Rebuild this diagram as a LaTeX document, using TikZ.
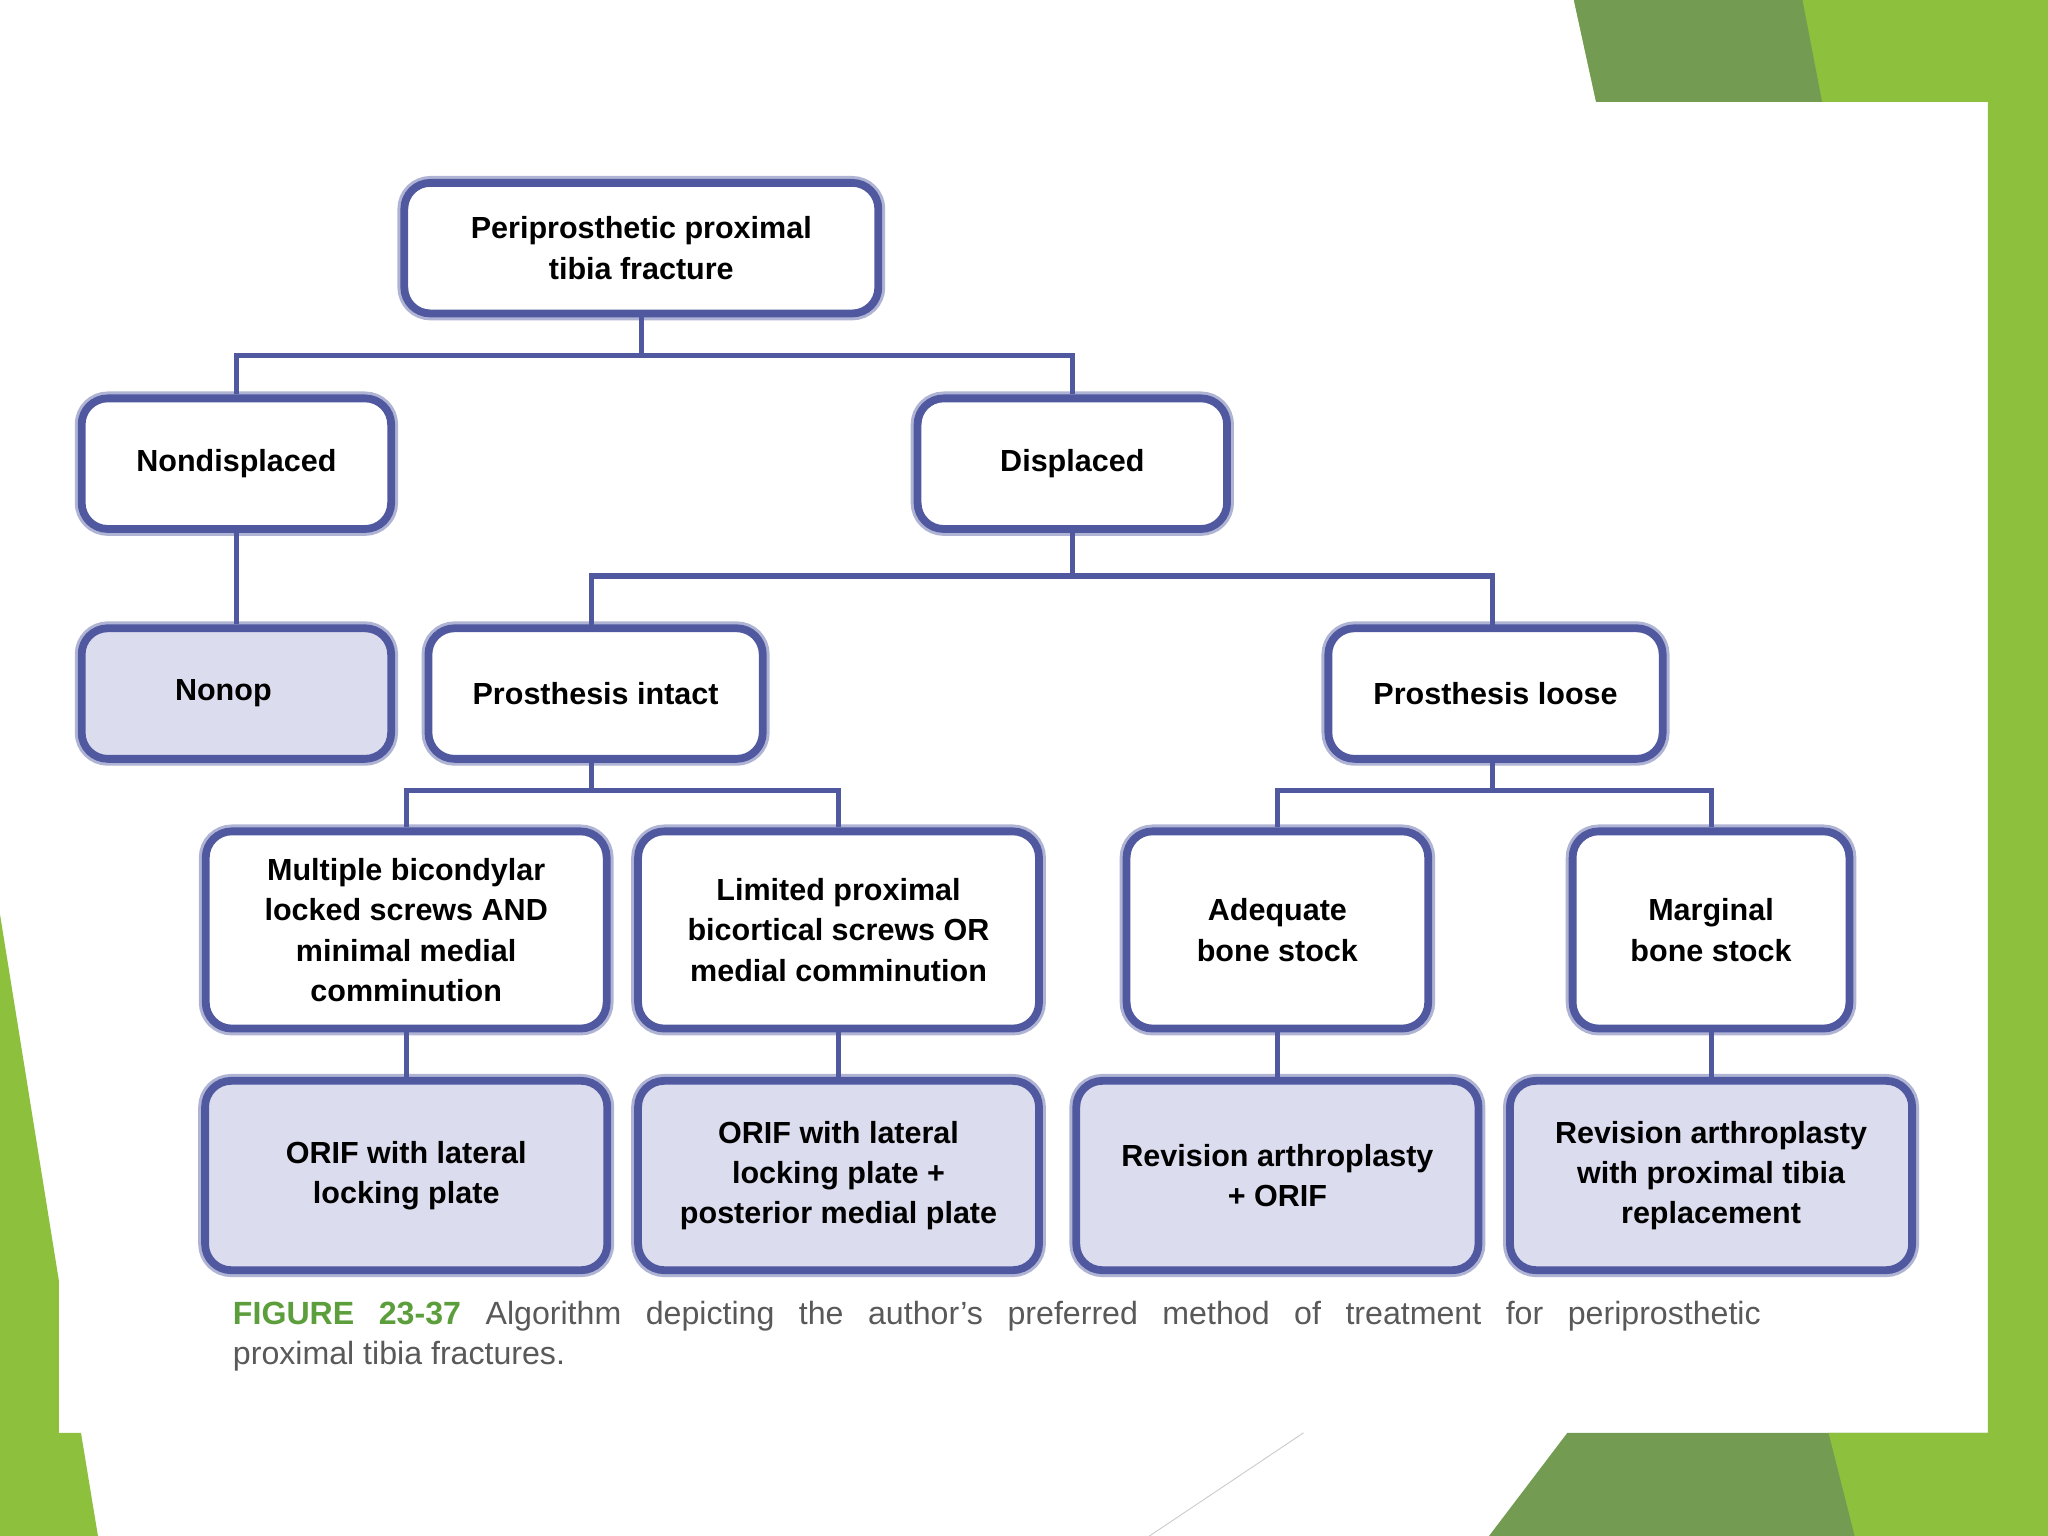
\documentclass[tikz,border=0pt]{standalone}
\usepackage{fontspec}
\setmainfont{Liberation Sans}
\begin{document}
\begin{tikzpicture}[x=0.02cm,y=-0.02cm,
  box/.style={draw=boxblue,line width=3.4pt,rounded corners=0.4cm,fill=white,
    font=\fontsize{13.3}{17.6}\selectfont\bfseries,align=center,inner sep=0pt,
    preaction={draw=boxblue!45,line width=6pt}},
  fbox/.style={box,fill=boxfill},
  conn/.style={draw=boxblue,line width=2.2pt}]
\definecolor{boxblue}{HTML}{5058A0}
\definecolor{boxfill}{HTML}{DCDCEF}
\definecolor{gA}{HTML}{8DC03C}
\definecolor{gB}{HTML}{739C52}
\definecolor{capgreen}{HTML}{5C9E3C}
\useasboundingbox (0,0) rectangle (1568,1176);
\fill[white] (0,0) rectangle (1568,1176);
% green decorations
\fill[gA] (1205,0) -- (1568,0) -- (1568,1176) -- (1522,1176) -- (1522,78) -- (1222,78) -- cycle;
\fill[gB] (1205,0) -- (1380,0) -- (1395,78) -- (1222,78) -- cycle;
\fill[gB] (1200,1097) -- (1522,1097) -- (1522,1176) -- (1140,1176) -- cycle;
\fill[gA] (1400,1097) -- (1522,1097) -- (1522,1176) -- (1420,1176) -- cycle;
\fill[gA] (1522,0) -- (1568,0) -- (1568,1176) -- (1522,1176) -- cycle;
\fill[gA] (0,700) -- (45,980) -- (45,1097) -- (62,1097) -- (75,1176) -- (0,1176) -- cycle;
\draw[gray!40] (880,1176) -- (998,1097);
% nodes
\node[box,minimum width=7.26cm,minimum height=2cm] (top) at (491,190) {Periprosthetic proximal\\tibia fracture};
\node[box,minimum width=4.74cm,minimum height=2cm] (nd) at (181,355) {Nondisplaced};
\node[box,minimum width=4.74cm,minimum height=2cm] (d) at (821,355) {Displaced};
\node[fbox,minimum width=4.74cm,minimum height=2cm] (nonop) at (181,531) {\hspace*{-0.4cm}Nonop};
\node[box,minimum width=5.12cm,minimum height=2cm] (pi) at (456,531) {Prosthesis intact};
\node[box,minimum width=5.12cm,minimum height=2cm] (pl) at (1145,531) {Prosthesis loose};
\node[box,minimum width=6.14cm,minimum height=3.02cm] (m) at (311,712) {Multiple bicondylar\\locked screws AND\\minimal medial\\comminution};
\node[box,minimum width=6.14cm,minimum height=3.02cm] (l) at (642,712) {Limited proximal\\bicortical screws OR\\medial comminution};
\node[box,minimum width=4.62cm,minimum height=3.02cm] (a) at (978,712) {Adequate\\bone stock};
\node[box,minimum width=4.24cm,minimum height=3.02cm] (mb) at (1310,712) {Marginal\\bone stock};
\node[fbox,minimum width=6.16cm,minimum height=2.9cm] (o1) at (311,900) {ORIF with lateral\\locking plate};
\node[fbox,minimum width=6.14cm,minimum height=2.9cm] (o2) at (642,900) {ORIF with lateral\\locking plate +\\posterior medial plate};
\node[fbox,minimum width=6.16cm,minimum height=2.9cm] (r1) at (978,900) {Revision arthroplasty\\+ ORIF};
\node[fbox,minimum width=6.16cm,minimum height=2.9cm] (r2) at (1310,900) {Revision arthroplasty\\with proximal tibia\\replacement};
% connectors
\draw[conn] (top.south) -- (491,272) -| (nd.north);
\draw[conn] (491,272) -| (d.north);
\draw[conn] (nd.south) -- (nonop.north);
\draw[conn] (d.south) -- (821,441) -| (453,481);
\draw[conn] (821,441) -| (1143,481);
\draw[conn] (453,581) -- (453,605) -| (m.north);
\draw[conn] (453,605) -| (l.north);
\draw[conn] (1143,581) -- (1143,605) -| (a.north);
\draw[conn] (1143,605) -| (mb.north);
\draw[conn] (m.south) -- (o1.north);
\draw[conn] (l.south) -- (o2.north);
\draw[conn] (a.south) -- (r1.north);
\draw[conn] (mb.south) -- (r2.north);
% caption
\node[anchor=north west,text width=23.4cm,align=justify,inner sep=0pt,text=black!65,
  font=\fontsize{14}{17.5}\selectfont] (cap) at (178,996)
 {{\color{capgreen}\bfseries FIGURE~23-37} Algorithm depicting the author’s preferred method of treatment for periprosthetic\linebreak proximal tibia fractures.};
\end{tikzpicture}
\end{document}
